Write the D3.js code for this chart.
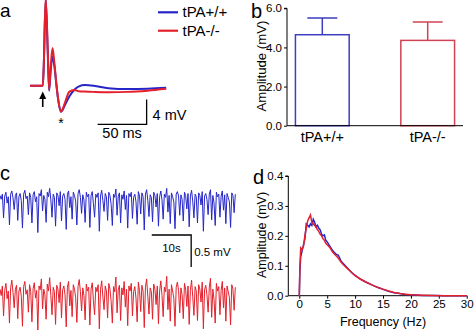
<!DOCTYPE html>
<html>
<head>
<meta charset="utf-8">
<script src="https://cdn.jsdelivr.net/npm/d3@7/dist/d3.min.js"></script>
<style>
  body { margin: 0; background: #fff; }
  svg { display: block; font-family: "Liberation Sans", Arial, sans-serif; }
</style>
</head>
<body>
<svg></svg>
<script>
const width = 474;
const height = 330;

const blue = "#2626c8";
const red = "#e3202b";

// panel a : evoked field potential (ms, mV)
const evokedTime = [0, 13, 14, 16, 18, 19.5, 21, 23, 25, 27, 29, 31.5, 33, 36, 40, 45, 50, 56, 65, 80, 100, 120, 139];
const evokedWT = [0, 0, 3, 14, 6, -0.8, 2.2, 4.7, 3, 0, -2.5, -4.2, -4.0, -3.0, -1.8, -0.7, -0.1, 0.1, 0, -0.4, -0.55, -0.5, -0.35];
const evokedKO = [0, 0, 3, 14.2, 6.3, -0.6, 2.8, 6.1, 3.5, 0.2, -2.5, -4.2, -3.9, -2.6, -1.0, -0.7, -0.9, -0.95, -1.0, -1.05, -1.0, -0.8, -0.5];

// panel b : amplitude means and error
const groups = ["tPA+/+", "tPA-/-"];
const ampMean = [4.65, 4.36];
const ampErr = [0.85, 0.94];
const ampTicks = [0, 2, 4, 6];

// panel c : spontaneous activity, one sample every 0.3 s (µV)
const sampleStep = 0.3;
const traceWT = [
  40, -20, 60, -310, 30, 90, -80, 20, -420, 60, 110, 0, -180, 40, 80, -350, 20, 70, -40, -470,
  60, 120, -10, 30, -260, 80, 10, -390, 50, 100, -60, 20, -540, 70, 30, 130, -200, 40, -20, -380,
  90, 20, 150, -30, -300, 60, 10, -440, 80, 40, -120, 100, -360, 30, 70, -20, -490, 60, 110, -150,
  20, -330, 90, 40, -50, -420, 70, 130, 10, -240, 50, -30, -380, 90, 20, 60, -460, 40, 100, -90,
  -300, 60, 10, 80, -520, 30, 120, -40, -210, 70, 20, -350, 90, 40, -100, -430, 60, 10, 140, -270,
  30, 80, -390, 50, -20, 110, -180, 40, -470, 70, 20, 90, -320, 10, 60, -60, -410, 100, 30, -250,
  80, 20, -500, 60, 130, -40, -290, 50, 10, -370, 90, 40, -140, 70, -440, 20, 110, -30, -330, 60,
  10, 150, -220, 40, -400, 80, 20, -60, -480, 60, 100, 30, -270, 50, -20, -360, 90, 40, -170, 70,
  -450, 30, 120, -50, -310, 60, 20, -390, 80, 40, -110, 100, -520, 30, 70, -20, -260, 60, 130, -340,
  40, -80, -430, 90, 20, 60, -300, 30, 110, -190, 50, -400, 70, 10, -60, -460, 80, 40, -230, 60
];
const traceKO = [
  60, -40, 110, -360, 40, 150, -90, 30, -470, 80, 200, 10, -230, 60, 120, -400, 30, 90, -50, -520,
  100, 180, -20, 50, -300, 130, 20, -450, 70, 160, -80, 40, -580, 110, 50, 220, -250, 60, -30, -410,
  140, 30, 240, -40, -340, 90, 20, -490, 120, 60, -150, 170, -390, 50, 110, -30, -530, 90, 180, -200,
  40, -370, 130, 60, -70, -460, 100, 210, 20, -280, 80, -40, -420, 140, 30, 90, -500, 60, 160, -120,
  -340, 90, 20, 130, -560, 50, 190, -60, -260, 110, 30, -390, 150, 60, -130, -470, 100, 20, 250, -310,
  50, 120, -430, 80, -30, 180, -220, 60, -510, 110, 30, 150, -360, 20, 100, -80, -450, 170, 40, -290,
  120, 30, -540, 90, 220, -50, -330, 80, 20, -410, 140, 60, -180, 110, -480, 30, 190, -40, -370, 90,
  20, 260, -260, 60, -440, 130, 30, -80, -520, 90, 170, 40, -310, 80, -30, -400, 150, 60, -210, 110,
  -490, 40, 200, -60, -350, 100, 30, -430, 130, 60, -140, 170, -560, 50, 120, -30, -300, 90, 230, -380,
  60, -100, -470, 150, 30, 100, -340, 40, 180, -230, 80, -440, 110, 20, -70, -500, 130, 60, -270, 90
];

// panel d : amplitude spectrum (Hz, mV)
const freq = [0, 0.1, 0.25, 0.5, 0.75, 1, 1.25, 1.5, 1.75, 2, 2.25, 2.5, 2.75, 3, 3.25, 3.5, 3.75, 4, 4.25, 4.5, 4.75, 5,
  5.5, 6, 6.5, 7, 7.5, 8, 8.5, 9, 9.5, 10, 11, 12, 13, 14, 15, 16, 17, 18, 19, 20, 22, 24, 26, 28, 30];
const specWT = [0, 0.08, 0.13, 0.15, 0.17, 0.19, 0.24, 0.235, 0.23, 0.24, 0.235, 0.255, 0.245, 0.23, 0.235, 0.225, 0.22, 0.205, 0.2, 0.203, 0.185, 0.18,
  0.165, 0.15, 0.14, 0.135, 0.115, 0.105, 0.095, 0.085, 0.076, 0.068, 0.055, 0.045, 0.036, 0.028, 0.021, 0.015, 0.01, 0.007, 0.004, 0.003, 0.001, 0.0005, 0, 0, 0];
const specKO = [0, 0.09, 0.16, 0.155, 0.165, 0.2, 0.225, 0.25, 0.26, 0.27, 0.245, 0.24, 0.235, 0.23, 0.22, 0.215, 0.205, 0.2, 0.19, 0.185, 0.175, 0.17,
  0.16, 0.145, 0.135, 0.125, 0.112, 0.102, 0.093, 0.084, 0.075, 0.067, 0.055, 0.045, 0.036, 0.028, 0.022, 0.016, 0.011, 0.007, 0.005, 0.003, 0.0015, 0.0005, 0, 0, 0];
const freqTicks = [0, 5, 10, 15, 20, 25, 30];
const specTicks = [0, 0.1, 0.2, 0.3, 0.4];

let svg = d3.select("svg").attr("width", width).attr("height", height);

function panelLetter(txt, x, y, size) {
  svg.append("text").attr("x", x).attr("y", y).attr("font-size", size || 20).text(txt);
}

// ---------- a ----------
const ax = d3.scaleLinear().domain([0, 50]).range([30, 79]);
const ay = d3.scaleLinear().domain([0, 4]).range([85.7, 61]);
const aLine = d3.line().x((d, i) => ax(evokedTime[i])).y((d) => ay(d)).curve(d3.curveMonotoneX);

svg.append("path").attr("d", aLine(evokedWT)).attr("fill", "none").attr("stroke", blue).attr("stroke-width", 2);
svg.append("path").attr("d", aLine(evokedKO)).attr("fill", "none").attr("stroke", red).attr("stroke-width", 2);

// stimulus arrow
const arrowX = ax(13);
svg.append("line").attr("x1", arrowX).attr("x2", arrowX).attr("y1", 107).attr("y2", 96)
  .attr("stroke", "#000").attr("stroke-width", 1.6);
svg.append("path").attr("d", `M${arrowX},91.5 L${arrowX - 3.5},99 L${arrowX + 3.5},99 Z`).attr("fill", "#000");
svg.append("text").attr("x", ax(31.5)).attr("y", 128).attr("text-anchor", "middle").attr("font-size", 14).text("*");

// scale bars
svg.append("path").attr("d", `M${ax(69)},${ay(-6.25)} H${ax(119)} V${ay(-2.25)}`)
  .attr("fill", "none").attr("stroke", "#000").attr("stroke-width", 1.3);
svg.append("text").attr("x", ax(119) + 6).attr("y", 120).attr("font-size", 14.5).text("4 mV");
svg.append("text").attr("x", ax(94)).attr("y", 138).attr("text-anchor", "middle").attr("font-size", 14.5).text("50 ms");

// legend
[["tPA+/+", blue, 12.3], ["tPA-/-", red, 30.7]].forEach(([lab, col, y]) => {
  svg.append("line").attr("x1", 158).attr("x2", 178).attr("y1", y).attr("y2", y).attr("stroke", col).attr("stroke-width", 2.2);
  svg.append("text").attr("x", 182.5).attr("y", y + 5).attr("font-size", 15).text(lab);
});
panelLetter("a", 0, 16.5, 19);

// ---------- b ----------
const bx = d3.scaleBand().domain(groups).range([287, 463]).paddingInner(0.49).paddingOuter(0.08);
const by = d3.scaleLinear().domain([0, 6]).range([125.7, 8.3]);
const barCols = ["#3d3dc2", "#cf4454"];

let gb = svg.append("g");
gb.selectAll("rect").data(groups).enter().append("rect")
  .attr("x", (d) => bx(d)).attr("width", bx.bandwidth())
  .attr("y", (d, i) => by(ampMean[i])).attr("height", (d, i) => by(0) - by(ampMean[i]))
  .attr("fill", "#fff").attr("stroke", (d, i) => barCols[i]).attr("stroke-width", 1.5);
gb.selectAll(".err").data(groups).enter().append("path")
  .attr("d", (d, i) => {
    const cx = bx(d) + bx.bandwidth() / 2;
    const top = by(ampMean[i] + ampErr[i]);
    return `M${cx},${by(ampMean[i])} V${top} M${cx - 15},${top} H${cx + 15}`;
  })
  .attr("fill", "none").attr("stroke", (d, i) => barCols[i]).attr("stroke-width", 1.5);

gb.append("g").attr("transform", "translate(287,0)")
  .call(d3.axisLeft(by).tickValues(ampTicks).tickSize(3).tickPadding(2))
  .call((g) => g.select(".domain").attr("d", `M-3,${by(6)} H0 V${by(0)}`))
  .selectAll("text").attr("font-size", 11.5).attr("font-family", null);
gb.append("line").attr("x1", 287).attr("x2", 463).attr("y1", by(0)).attr("y2", by(0)).attr("stroke", "#000");
gb.selectAll(".lab").data(groups).enter().append("text")
  .attr("x", (d) => bx(d) + bx.bandwidth() / 2).attr("y", 142).attr("text-anchor", "middle")
  .attr("font-size", 14.5).text((d) => d);
svg.append("text").attr("transform", "translate(266,66) rotate(-90)").attr("text-anchor", "middle")
  .attr("font-size", 13.2).text("Amplitude (mV)");
panelLetter("b", 251, 17.5);

// ---------- c ----------
const cx = d3.scaleLinear().domain([0, 60]).range([0, 236.5]);
const cyWT = d3.scaleLinear().domain([0, 500]).range([198, 166]);
const cyKO = d3.scaleLinear().domain([0, 500]).range([293, 261]);

svg.append("path").attr("d", d3.line().x((d, i) => cx(i * sampleStep)).y((d) => cyWT(d))(traceWT))
  .attr("fill", "none").attr("stroke", blue).attr("stroke-width", 1);
svg.append("path").attr("d", d3.line().x((d, i) => cx(i * sampleStep)).y((d) => cyKO(d))(traceKO))
  .attr("fill", "none").attr("stroke", red).attr("stroke-width", 1);

svg.append("path").attr("d", `M${cx(38.5)},235 H${cx(48.5)} V${235 + (cyWT(0) - cyWT(500))}`)
  .attr("fill", "none").attr("stroke", "#000").attr("stroke-width", 1.3);
svg.append("text").attr("x", cx(43.5)).attr("y", 252).attr("text-anchor", "middle").attr("font-size", 11.5).text("10s");
svg.append("text").attr("x", cx(48.5) + 3).attr("y", 256).attr("font-size", 11.5).text("0.5 mV");
panelLetter("c", 0, 180);

// ---------- d ----------
const dx = d3.scaleLinear().domain([0, 30]).range([299.3, 466.7]);
const dy = d3.scaleLinear().domain([0, 0.4]).range([295.7, 176]);

let gd = svg.append("g");
gd.append("g").attr("transform", `translate(0,${dy(0)})`)
  .call(d3.axisBottom(dx).tickValues(freqTicks).tickSize(3).tickPadding(1))
  .call((g) => g.select(".domain").attr("d", "M288.3,0 H466.7"))
  .selectAll("text").attr("font-size", 11.5).attr("font-family", null);
gd.append("g").attr("transform", "translate(288.3,0)")
  .call(d3.axisLeft(dy).tickValues(specTicks).tickFormat(d3.format(".1f")).tickSize(3).tickPadding(2))
  .call((g) => g.select(".domain").attr("d", `M-3,${dy(0.4)} H0 V${dy(0)}`))
  .selectAll("text").attr("font-size", 11.5).attr("font-family", null);

const dLine = d3.line().x((d, i) => dx(freq[i])).y((d) => dy(d));
gd.append("path").attr("d", dLine(specWT)).attr("fill", "none").attr("stroke", blue).attr("stroke-width", 1.5);
gd.append("path").attr("d", dLine(specKO)).attr("fill", "none").attr("stroke", red).attr("stroke-width", 1.5);

svg.append("text").attr("x", dx(15)).attr("y", 326).attr("text-anchor", "middle").attr("font-size", 12.5).text("Frequency (Hz)");
svg.append("text").attr("transform", "translate(266,235) rotate(-90)").attr("text-anchor", "middle")
  .attr("font-size", 12.5).text("Amplitude (mV)");
panelLetter("d", 253, 184);
</script>
</body>
</html>
